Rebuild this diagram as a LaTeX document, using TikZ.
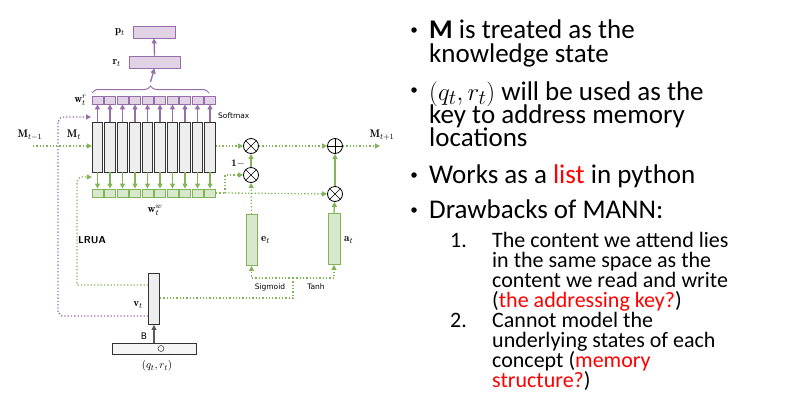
\documentclass[tikz,border=0pt]{standalone}
\usepackage{fontspec}
\newfontfamily\calfont{Carlito}
\newfontfamily\dvfont{DejaVu Sans}
\usetikzlibrary{arrows.meta,decorations.pathreplacing}
\definecolor{pu}{RGB}{150,110,170}
\definecolor{pufill}{RGB}{225,210,230}
\definecolor{gr}{RGB}{130,180,90}
\definecolor{grfill}{RGB}{215,232,205}
\definecolor{mem}{RGB}{238,238,238}
\begin{document}
\begin{tikzpicture}[x=1pt,y=-1pt,
  pbox/.style={draw=pu,fill=pufill,line width=0.8pt},
  gbox/.style={draw=gr,fill=grfill,line width=0.8pt},
  mbox/.style={draw=black!80,fill=mem,line width=0.8pt},
  gdot/.style={draw=gr,dotted,line width=1.3pt},
  pdot/.style={draw=pu,dotted,line width=1.3pt},
  garr/.style={gdot,-{Triangle[length=5pt,width=5pt,fill=gr]}},
  garrs/.style={draw=gr,line width=1.3pt,-{Triangle[length=5pt,width=5pt]}},
  parr/.style={draw=pu,line width=1.3pt,-{Triangle[length=5pt,width=5pt]}},
  op/.style={circle,draw,line width=0.8pt,minimum size=15pt,inner sep=0pt},
  lbl/.style={font=\fontsize{11}{12}\selectfont,inner sep=0pt},
  sl/.style={font=\dvfont\fontsize{7.5}{8}\selectfont,inner sep=0pt},
  rt/.style={font=\calfont\fontsize{27}{27}\selectfont,anchor=base west,inner sep=0pt},
  rs/.style={font=\calfont\fontsize{22}{22}\selectfont,anchor=base west,inner sep=0pt},
  bul/.style={circle,fill=black,inner sep=0pt,minimum size=5.5pt}
]
\useasboundingbox (0,0) rectangle (787,405);
% top
\node[pbox,minimum width=42pt,minimum height=12pt,inner sep=0pt] (p) at (154,32) {};
\node[pbox,minimum width=51pt,minimum height=12pt,inner sep=0pt] (r) at (154.5,62) {};
\node[lbl,anchor=east] at (125,32) {$\mathbf{p}_t$};
\node[lbl,anchor=east] at (121,63) {$\mathbf{r}_t$};
\draw[parr] (r.north) -- (p.south);
\draw[draw=pu,line width=1pt,decorate,decoration={brace,amplitude=7pt}] (92,93) -- (209,93);
\coordinate (br) at (150.5,82);
\draw[parr] (br) -- (r.south);
\node[lbl,anchor=east] at (87,100) {$\mathbf{w}^r_t$};
\node[sl,anchor=west] at (218,116) {Softmax};
% columns
\foreach \i in {0,...,9}{
  \pgfmathsetmacro{\xx}{97.5+12.5*\i}
  \node[pbox,minimum width=11pt,minimum height=8pt,inner sep=0pt] (wr\i) at (\xx,100) {};
  \node[mbox,minimum width=10.5pt,minimum height=50pt,inner sep=0pt] (m\i) at (\xx,147) {};
  \node[gbox,minimum width=11pt,minimum height=8pt,inner sep=0pt] (ww\i) at (\xx,193) {};
  \draw[parr] (m\i.north) -- (wr\i.south);
  \draw[garrs] (m\i.south) -- (ww\i.north);
}
\node[lbl] at (155,210) {$\mathbf{w}^w_t$};
\node[lbl] at (30,135) {$\mathbf{M}_{t-1}$};
\node[lbl] at (74,135) {$\mathbf{M}_t$};
\coordinate (min) at (33,146);
\draw[garr] (min) -- (m0.west |- min);
% ops
\node[op] (x1) at (251,146) {};
\draw (x1.north west) -- (x1.south east) (x1.north east) -- (x1.south west);
\node[op] (x2) at (251,175) {};
\draw (x2.north west) -- (x2.south east) (x2.north east) -- (x2.south west);
\node[op] (pl) at (335,146) {};
\draw (pl.north) -- (pl.south) (pl.east) -- (pl.west);
\node[op] (x3) at (335,194) {};
\draw (x3.north west) -- (x3.south east) (x3.north east) -- (x3.south west);
\node[lbl,font=\bfseries\fontsize{10}{11}\selectfont] at (238,164) {1$-$};
\draw[garr] (m9.east |- x1) -- (x1);
\draw[garr] (x1) -- (pl);
\draw[garrs] (x2) -- (x1);
\draw[garrs] (x3) -- (pl);
\coordinate (mo) at (380,146);
\draw[garr] (pl) -- (mo);
\node[lbl] at (382,135) {$\mathbf{M}_{t+1}$};
\coordinate (j) at (225,193);
\draw[gdot] (ww9.east) -- (j);
\draw[garr] (j) |- (x2);
\draw[garr] (j) -- (x3);
% e, a
\node[gbox,minimum width=11pt,minimum height=51pt,inner sep=0pt] (e) at (251.5,240) {};
\node[gbox,minimum width=12pt,minimum height=51pt,inner sep=0pt] (a) at (334,239) {};
\node[lbl,anchor=west] at (261,240) {$\mathbf{e}_t$};
\node[lbl,anchor=west] at (344,240) {$\mathbf{a}_t$};
\draw[garr] (e.north) -- (x2);
\draw[garrs] (a.north) -- (x3);
% v
\node[mbox,minimum width=11pt,minimum height=51pt,inner sep=0pt] (v) at (154,299) {};
\node[lbl,anchor=east] at (143,305) {$\mathbf{v}_t$};
\coordinate (sj) at (293,278);
\draw[gdot] (v.east |- 0,298) -- (293,298) -- (sj);
\draw[garr] (sj) -| (e.south);
\draw[garr] (sj) -| (a.south);
\node[sl] at (270,287) {Sigmoid};
\node[sl] at (316,287) {Tanh};
\draw[garr] (v.west |- 0,285) -- (77,285) -- (77,182) to[out=90,in=180] (82,177) -- (m0.south west |- 0,177);
\draw[pdot,-{Triangle[length=5pt,width=5pt,fill=pu]}] (v.west |- 0,316) -- (62,316) to[out=180,in=90] (58,312) -- (58,121) to[out=-90,in=180] (62,117) -- (91,117);
\node[font=\sffamily\bfseries\fontsize{10}{11}\selectfont,inner sep=0pt] at (92,240) {LRUA};
% input
\node[mbox,fill=black!4,minimum width=84pt,minimum height=11pt,inner sep=0pt] (in) at (154,348.5) {};
\draw[black!70,line width=0.6pt] (161,348.5) circle (3pt);
\draw[black!65,line width=1.3pt,-{Triangle[length=5pt,width=5pt]}] (in.north) -- (v.south);
\node[sl,font=\dvfont\fontsize{9}{9}\selectfont] at (144,336) {B};
\node[lbl] at (157,366) {$(q_t,r_t)$};
% right text
\node[bul] at (414,30) {};
\node[rt] at (429,38) {\textbf{M} is treated as the};
\node[rt] at (429,62) {knowledge state};
\node[bul] at (414,90) {};
\node[rt] at (429,100) {\fontsize{30}{30}\selectfont$(q_t,r_t)$\fontsize{27}{27}\selectfont{} will be used as the};
\node[rt] at (429,123) {key to address memory};
\node[rt] at (429,146) {locations};
\node[bul] at (414,175) {};
\node[rt] at (429,183) {Works as a \textcolor{red}{list} in python};
\node[bul] at (414,210) {};
\node[rt] at (429,218) {Drawbacks of MANN:};
\node[rs] at (450,247) {1.};
\node[rs] at (492,247) {The content we attend lies};
\node[rs] at (492,267) {in the same space as the};
\node[rs] at (492,287) {content we read and write};
\node[rs] at (492,307) {(\textcolor{red}{the addressing key?})};
\node[rs] at (450,327) {2.};
\node[rs] at (492,327) {Cannot model the};
\node[rs] at (492,347) {underlying states of each};
\node[rs] at (492,367) {concept (\textcolor{red}{memory}};
\node[rs] at (492,387) {\textcolor{red}{structure?})};
\end{tikzpicture}
\end{document}
